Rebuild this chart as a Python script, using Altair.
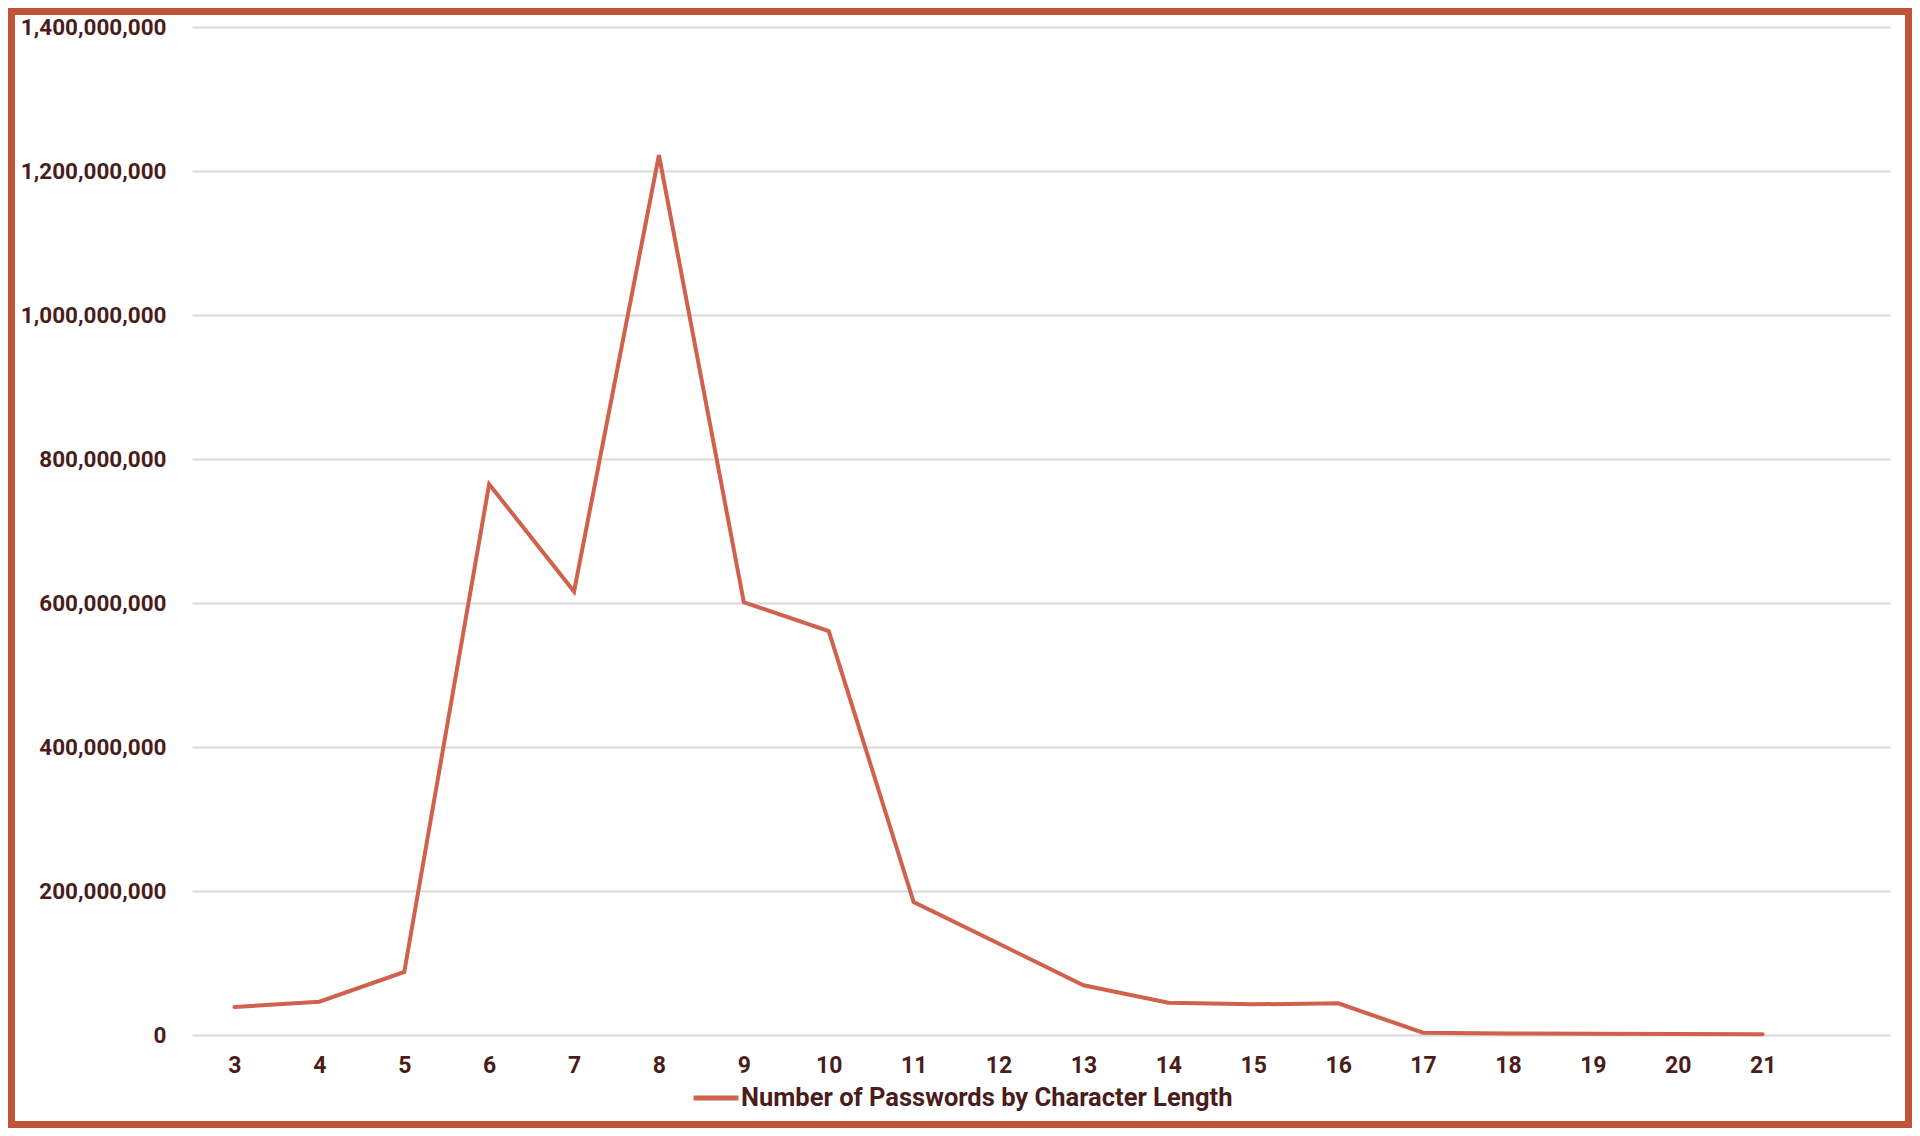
import altair as alt
import pandas as pd

lengths = [3, 4, 5, 6, 7, 8, 9, 10, 11, 12, 13, 14, 15, 16, 17, 18, 19, 20, 21]
counts = [38_900_000, 46_300_000, 87_500_000, 765_000_000, 616_000_000,
          1_222_000_000, 601_000_000, 561_000_000, 184_700_000, 127_000_000,
          69_000_000, 44_900_000, 42_600_000, 44_000_000, 3_200_000,
          2_000_000, 1_800_000, 1_500_000, 1_200_000]
series_name = "Number of Passwords by Character Length"
y_ticks = [0, 200_000_000, 400_000_000, 600_000_000, 800_000_000,
           1_000_000_000, 1_200_000_000, 1_400_000_000]

df = pd.DataFrame({"length": lengths, "count": counts, "series": series_name})

TEXT = "#4A1D1B"
LINE = "#D0614C"
BORDER = "#BF5535"

W, H = 1698, 1008
PAD = {"left": 184, "top": 19, "right": 22, "bottom": 93}

line = alt.Chart(df).mark_line(strokeWidth=4, strokeCap="round", strokeJoin="miter").encode(
    x=alt.X("length:Q",
            scale=alt.Scale(domain=[2.5, 22.5], nice=False, zero=False),
            axis=alt.Axis(values=lengths, title=None, grid=False, domain=False,
                          ticks=False, labelPadding=19, format="d",
                          labelFont="Roboto", labelFontSize=23, labelFontWeight="bold",
                          labelColor=TEXT)),
    y=alt.Y("count:Q",
            scale=alt.Scale(domain=[0, 1_400_000_000], nice=False),
            axis=alt.Axis(values=y_ticks, title=None, format=",d", domain=False,
                          ticks=False, labelPadding=26, grid=True,
                          gridColor="#D9D9D9", gridWidth=2,
                          labelFont="Roboto", labelFontSize=22.5, labelFontWeight="bold",
                          labelColor=TEXT)),
    color=alt.Color("series:N",
                    scale=alt.Scale(domain=[series_name], range=[LINE]),
                    legend=alt.Legend(title=None, orient="none", legendX=499, legendY=1046,
                                      symbolType="stroke", symbolSize=2025,
                                      symbolStrokeWidth=5, labelOffset=0,
                                      labelFont="Roboto", labelFontSize=25.5,
                                      labelFontWeight="bold", labelColor=TEXT,
                                      padding=0, labelLimit=0)),
)

border = alt.Chart(df).mark_rect(fill=None, stroke=BORDER, strokeWidth=7).encode(
    x=alt.value(-PAD["left"] + 3.5),
    x2=alt.value(W + PAD["right"] - 3.5),
    y=alt.value(-PAD["top"] + 3.5),
    y2=alt.value(H + PAD["bottom"] - 3.5),
)

chart = alt.layer(line, border).properties(
    width=W, height=H, padding=PAD,
    autosize=alt.AutoSizeParams(type="none"),
    background="white",
).configure_view(stroke=None)

chart.save("out.html", embed_options={"renderer": "svg", "actions": False})
